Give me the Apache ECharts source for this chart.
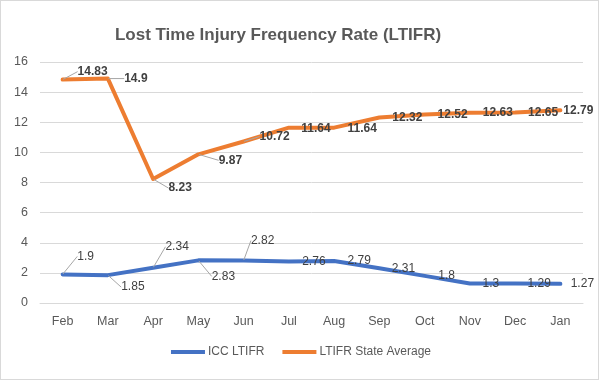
<!DOCTYPE html>
<html>
<head>
<meta charset="utf-8">
<script src="https://cdn.jsdelivr.net/npm/echarts@6/dist/echarts.min.js"></script>
<style>
html,body{margin:0;padding:0;background:#fff;}
#frame{position:absolute;left:0;top:0;width:599px;height:380px;box-sizing:border-box;border:1px solid #d9d9d9;}
#chart{position:absolute;left:0;top:0;width:602px;height:381px;}
</style>
</head>
<body>
<div id="frame"></div>
<div id="chart"></div>
<script>
const categories = ['Feb','Mar','Apr','May','Jun','Jul','Aug','Sep','Oct','Nov','Dec','Jan'];
const iccLTIFR = [1.9, 1.85, 2.34, 2.83, 2.82, 2.76, 2.79, 2.31, 1.8, 1.3, 1.29, 1.27];
const stateAverage = [14.83, 14.9, 8.23, 9.87, 10.72, 11.64, 11.64, 12.32, 12.52, 12.63, 12.65, 12.79];
const yTicks = [0, 2, 4, 6, 8, 10, 12, 14, 16];

// label centre offsets from each point (layout only)
const blueLabelOff = [[23,-18],[25,12],[24,-21],[25,16],[19,-20],[25,0],[25,0],[24,0],[22,0],[21,0],[24,0],[22,0]];
const orangeLabelOff = [[30,-8],[28,0],[27,9],[32,6],[31,-5],[27,1],[28,1],[28,0],[28,0],[28,0],[28,0],[18,0]];
const leaderIdx = [0,1,2,3,4];

const chart = echarts.init(document.getElementById('chart'), null, {renderer:'canvas'});
const FONT = 'Liberation Sans';

function mkData(vals){
  return vals.map((v,i)=>({value:v, labelLine:{show: leaderIdx.indexOf(i) >= 0}}));
}
function mkLayout(offs){
  return function(p){
    const r = p.rect;
    const cx = r.x + r.width/2, cy = r.y + r.height/2;
    const o = offs[p.dataIndex];
    return {x: cx + o[0], y: cy + o[1], align:'center', verticalAlign:'middle'};
  };
}

chart.setOption({
  animation:false,
  backgroundColor:'transparent',
  title:{
    text:'Lost Time Injury Frequency Rate (LTIFR)',
    left:273, top:22, textAlign:'center',
    textStyle:{fontFamily:FONT, fontSize:17, fontWeight:'bold', color:'#595959'}
  },
  grid:{left:40, right:19, top:62, bottom:78, containLabel:false},
  legend:{
    bottom:18, left:'center',
    icon:'rect', itemWidth:34, itemHeight:4, itemGap:18,
    textStyle:{fontFamily:FONT, fontSize:12, color:'#595959', padding:[0,0,0,-2]},
    data:['ICC LTIFR','LTIFR State Average']
  },
  xAxis:{
    type:'category', data:categories, boundaryGap:true,
    axisLine:{show:true, lineStyle:{color:'#d9d9d9'}},
    axisTick:{show:false},
    axisLabel:{fontFamily:FONT, fontSize:12.5, color:'#595959', margin:12}
  },
  yAxis:{
    type:'value', min:yTicks[0], max:yTicks[yTicks.length-1], interval:2,
    axisLine:{show:false}, axisTick:{show:false},
    splitLine:{lineStyle:{color:'#d9d9d9', width:1}},
    axisLabel:{fontFamily:FONT, fontSize:12.5, color:'#595959', margin:12}
  },
  series:[
    {
      name:'ICC LTIFR', type:'line', data:mkData(iccLTIFR),
      symbol:'circle', symbolSize:1, showSymbol:true,
      itemStyle:{color:'#4472C4'},
      lineStyle:{color:'#4472C4', width:4, cap:'round', join:'round'},
      label:{show:true, position:'right', fontFamily:FONT, fontSize:12, color:'#404040'},
      labelLine:{show:false, lineStyle:{color:'#a6a6a6', width:1}},
      labelLayout:mkLayout(blueLabelOff)
    },
    {
      name:'LTIFR State Average', type:'line', data:mkData(stateAverage),
      symbol:'circle', symbolSize:1, showSymbol:true,
      itemStyle:{color:'#ED7D31'},
      lineStyle:{color:'#ED7D31', width:4, cap:'round', join:'round'},
      label:{show:true, position:'right', fontFamily:FONT, fontSize:12, fontWeight:'bold', color:'#404040'},
      labelLine:{show:false, lineStyle:{color:'#a6a6a6', width:1}},
      labelLayout:mkLayout(orangeLabelOff)
    }
  ]
});
</script>
</body>
</html>
